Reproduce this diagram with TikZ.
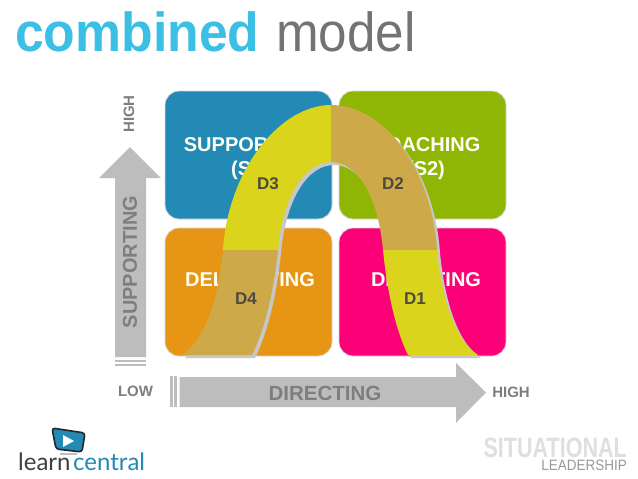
\documentclass[tikz,border=0pt]{standalone}
\usepackage{fontspec}
\setmainfont{Liberation Sans}
\newfontfamily\logofont{Lato}
\definecolor{blueBox}{HTML}{2389B5}
\definecolor{greenBox}{HTML}{8FB505}
\definecolor{orangeBox}{HTML}{E69515}
\definecolor{pinkBox}{HTML}{FC0078}
\definecolor{archYellow}{HTML}{DAD51C}
\definecolor{archTan}{HTML}{CDA94A}
\definecolor{axisGrey}{HTML}{BDBDBD}
\definecolor{axisText}{HTML}{7E7E7E}
\definecolor{sitGrey}{HTML}{DCE0E2}
\definecolor{titleBlue}{HTML}{3CBFE4}
\tikzset{
  quadbox/.style={rounded corners=14, minimum width=167, minimum height=128, draw=white!85!black, line width=0.8, inner sep=0},
  quadtext/.style={font=\bfseries\fontsize{20}{24}\selectfont, text=white!95!yellow, align=center},
  archtext/.style={font=\bfseries\fontsize{17}{18}\selectfont, text=black!80!yellow},
  axistext/.style={font=\bfseries\fontsize{15}{16}\selectfont, text=axisText},
  axisname/.style={font=\bfseries\fontsize{20}{24}\selectfont, text=axisText},
}
\begin{document}
\begin{tikzpicture}[x=1pt,y=-1pt]
  \useasboundingbox[fill=white] (0,0) rectangle (638,479);

  % Title
  \node[anchor=base west, inner sep=0, font=\bfseries\fontsize{55}{60}\selectfont, text=titleBlue, xscale=0.94] (title) at (15,52) {combined};
  \node[anchor=base west, inner sep=0, font=\fontsize{55}{60}\selectfont, text=black!55, xscale=0.93] (model) at (276,52) {model};

  % Quadrants
  \node[quadbox, fill=blueBox]   (supporting) at (248.5,155) {};
  \node[quadbox, fill=greenBox]  (coaching)   at (422.5,155) {};
  \node[quadbox, fill=orangeBox] (delegating) at (248.5,292) {};
  \node[quadbox, fill=pinkBox]   (directing)  at (422.5,292) {};

  \node[quadtext] at (250,159) {SUPPORTING\\(S3)};
  \node[quadtext] at (426,159) {COACHING\\(S2)};
  \node[quadtext] at (250,280) {DELEGATING};
  \node[quadtext] at (426,280) {DIRECTING};

  % Arch shadow
  \fill[black!22, shift={(3,3)}] (182,355) .. controls (205,340) and (218,300) .. (223,250)
    .. controls (228,170) and (280,105) .. (331,105)
    .. controls (385,105) and (432,170) .. (437,250)
    .. controls (442,300) and (455,340) .. (478,355)
    -- (408,355) .. controls (398,335) and (388,300) .. (383,250)
    .. controls (378,195) and (357,162) .. (331,162)
    .. controls (305,162) and (283,195) .. (278,250)
    .. controls (273,300) and (262,335) .. (252,355) -- cycle;

  % Arch
  \fill[archYellow] (223,250) .. controls (228,170) and (280,105) .. (331,105)
    -- (331,162) .. controls (305,162) and (283,195) .. (278,250) -- cycle;
  \fill[archTan] (437,250) .. controls (432,170) and (385,105) .. (331,105)
    -- (331,162) .. controls (357,162) and (378,195) .. (383,250) -- cycle;
  \fill[archTan] (223,250) .. controls (218,300) and (205,340) .. (182,355)
    -- (252,355) .. controls (262,335) and (273,300) .. (278,250) -- cycle;
  \fill[archYellow] (437,250) .. controls (442,300) and (455,340) .. (478,355)
    -- (408,355) .. controls (398,335) and (388,300) .. (383,250) -- cycle;

  \node[archtext] (D3) at (268,184) {D3};
  \node[archtext] (D2) at (393,184) {D2};
  \node[archtext] (D4) at (246,299) {D4};
  \node[archtext] (D1) at (415,299) {D1};

  % Vertical axis
  \fill[axisGrey] (115,357) -- (115,178) -- (99,178) -- (130,147) -- (161,178) -- (146,178) -- (146,357) -- cycle;
  \fill[axisGrey] (115,360) rectangle (146,362);
  \fill[axisGrey] (115,364) rectangle (146,366);
  \node[axisname, rotate=90] (supportingaxis) at (130,262) {SUPPORTING};
  \node[axistext, rotate=90] (highy) at (129,114) {HIGH};

  % Horizontal axis
  \fill[axisGrey] (179.5,377) -- (456,377) -- (456,363) -- (486,392.5) -- (456,423) -- (456,407) -- (179.5,407) -- cycle;
  \fill[axisGrey] (170,376) rectangle (172.7,407);
  \fill[axisGrey] (174,376) rectangle (177.3,407);
  \node[axisname, font=\bfseries\fontsize{20.5}{24}\selectfont] (directingaxis) at (325,393) {DIRECTING};
  \node[axistext] (lowx) at (135.5,391) {LOW};
  \node[axistext] (highx) at (511,392) {HIGH};

  % Logo
  \fill[black!25] (60,453) rectangle (77,454.5);
  \draw[black!85, line width=1.6, fill=blueBox, rounded corners=3] (52,428) -- (85,433) -- (82,452) -- (56,449) -- cycle;
  \fill[white] (63,435) -- (74,441) -- (63,447) -- cycle;
  \node[anchor=base west, inner sep=0, font=\logofont\fontsize{24}{26}\selectfont, text=black!75] (learn) at (18,470) {learn};
  \node[anchor=base west, inner sep=0, font=\logofont\fontsize{24}{26}\selectfont, text=blueBox] (central) at (73,470) {central};

  % Corner mark
  \node[anchor=base east, inner sep=0, font=\bfseries\fontsize{28}{30}\selectfont, text=sitGrey, xscale=0.77] (situational) at (627,457) {SITUATIONAL};
  \node[anchor=base east, inner sep=0, font=\fontsize{15}{16}\selectfont, text=black!40, xscale=0.9] (leadership) at (627,470.5) {LEADERSHIP};
\end{tikzpicture}
\end{document}
